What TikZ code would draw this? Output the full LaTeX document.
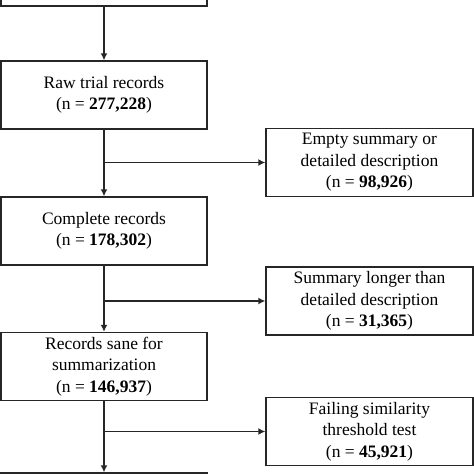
\documentclass[tikz,border=0pt]{standalone}
\usepackage{fontspec}
\setmainfont{Liberation Serif}
\usetikzlibrary{arrows.meta}
\begin{document}
\begin{tikzpicture}[x=1pt,y=-1pt,
  box/.style={draw=black!85, line width=1.4pt, rectangle, align=center, inner sep=0pt,
    font=\fontsize{17.5}{21.5}\selectfont},
  lbox/.style={box, minimum width=206pt, minimum height=68pt},
  rbox/.style={box, minimum width=207pt, minimum height=68pt},
  conn/.style={line width=1.4pt, draw=black!85},
  arr/.style={conn, -{Latex[length=7pt,width=7pt]}}]
\useasboundingbox (0,0) rectangle (474,474);
\clip (0,0) rectangle (474,474);
\node[lbox, minimum height=80pt] (top) at (104,-34) {};
\node[lbox] (raw) at (104,95) {Raw trial records\\(n = \textbf{277,228})};
\node[lbox] (complete) at (104,231) {Complete records\\(n = \textbf{178,302})};
\node[lbox] (sane) at (104,366.5) {Records sane for\\summarization\\(n = \textbf{146,937})};
\node[lbox, minimum height=80pt] (bottom) at (104,513) {};
\node[rbox] (empty) at (369.5,162.5) {Empty summary or\\detailed description\\(n = \textbf{98,926})};
\node[rbox] (longer) at (369.5,301) {Summary longer than\\detailed description\\(n = \textbf{31,365})};
\node[rbox] (fail) at (369.5,431.5) {Failing similarity\\threshold test\\(n = \textbf{45,921})};
\coordinate (b1) at (raw.south |- empty.west);
\coordinate (b2) at (complete.south |- longer.west);
\coordinate (b3) at (sane.south |- fail.west);
\draw[arr] (top) -- (raw);
\draw[arr] (raw) -- (complete);
\draw[arr] (complete) -- (sane);
\draw[arr] (sane) -- (bottom);
\draw[arr] (b1) -- (empty.west);
\draw[arr] (b2) -- (longer.west);
\draw[arr] (b3) -- (fail.west);
\end{tikzpicture}
\end{document}
